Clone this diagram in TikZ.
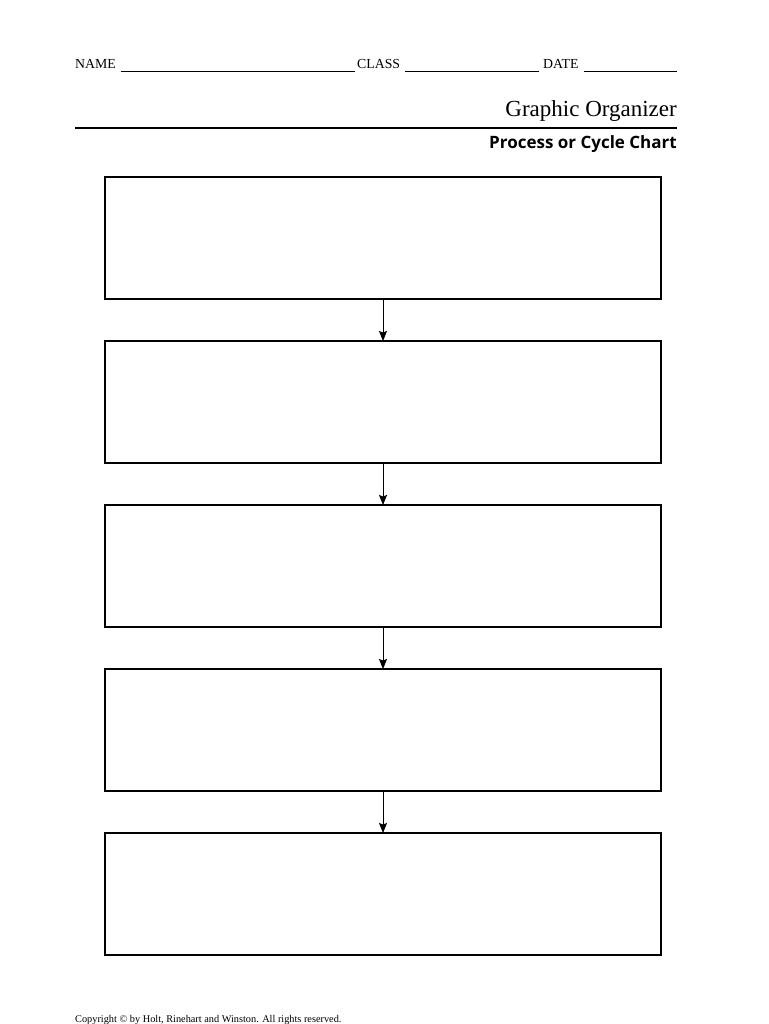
\documentclass[tikz,border=0pt]{standalone}
\usepackage{fontspec}
\setmainfont{Liberation Serif}
\newfontfamily\chartsans{Open Sans}
\usepackage{tikz}
\usetikzlibrary{arrows.meta,positioning}

\tikzset{
  stepbox/.style={draw,line width=2pt,minimum width=556pt,minimum height=122pt,
    inner sep=0pt,outer sep=0pt},
  blank/.style={line width=0.8pt},
  hdr/.style={inner sep=0pt,anchor=base west,font=\fontsize{13.8}{16}\selectfont},
}

\begin{document}
\begin{tikzpicture}[x=1pt,y=-1pt,node distance=42pt]
	\useasboundingbox[fill=white] (0,0) rectangle (768,1024);
	% header line
	\node[hdr] (name) at (75,69) {NAME};
	\node[hdr] (class) at (357,69) {CLASS};
	\node[hdr] (date) at (543,69) {DATE};
	\coordinate (nameend) at (355,71);
	\coordinate (classend) at (539,71);
	\coordinate (dateend) at (677,71);
	\draw[blank] ([xshift=5pt,yshift=-2pt]name.base east) -- (nameend);
	\draw[blank] ([xshift=5pt,yshift=-2pt]class.base east) -- (classend);
	\draw[blank] ([xshift=5pt,yshift=-2pt]date.base east) -- (dateend);
	% titles
	\node[inner sep=0pt,anchor=base east,font=\fontsize{23}{27}\selectfont] (title) at (677,117) {Graphic Organizer};
	\draw[line width=2.4pt] (75,128) -- (677,128);
	\node[inner sep=0pt,anchor=base east,font=\chartsans\bfseries\fontsize{17}{20}\selectfont] (subtitle) at (677,149) {Process or Cycle Chart};
	% boxes
	\node[stepbox] (box1) at (383,238) {};
	\node[stepbox,below=of box1] (box2) {};
	\node[stepbox,below=of box2] (box3) {};
	\node[stepbox,below=of box3] (box4) {};
	\node[stepbox,below=of box4] (box5) {};
	\foreach \i [evaluate=\i as \j using int(\i+1)] in {1,2,3,4}{
		\draw[-{Stealth[length=10pt,width=8pt,inset=1.5pt]},line width=0.9pt] (box\i.south) -- (box\j.north);
	}
	% footer
	\node[inner sep=0pt,anchor=base west,font=\fontsize{10.3}{12}\selectfont] (copy) at (75,1022) {Copyright \textcopyright\ by Holt, Rinehart and Winston. All rights reserved.};
\end{tikzpicture}
\end{document}
